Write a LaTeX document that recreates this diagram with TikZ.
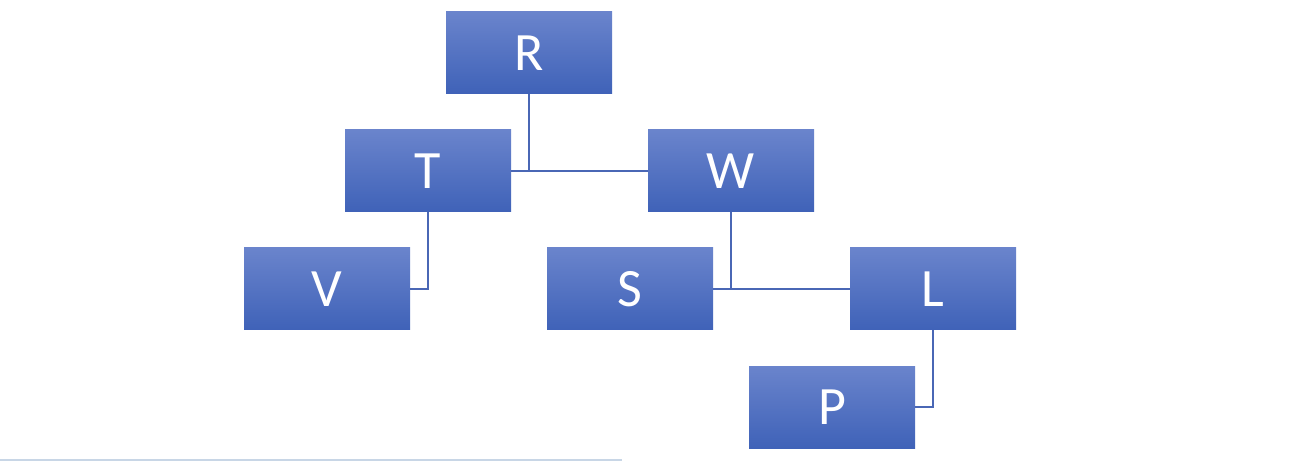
\documentclass[tikz,border=0pt]{standalone}
\usepackage{fontspec}
\setmainfont{Carlito}
\definecolor{boxtop}{HTML}{6A84CC}
\definecolor{boxbot}{HTML}{3F62B8}
\definecolor{lnk}{HTML}{4A67B5}
\begin{document}
\begin{tikzpicture}[x=1pt,y=-1pt,
  box/.style={minimum width=166pt,minimum height=82pt,top color=boxtop,bottom color=boxbot,draw=none,text=white,font=\fontsize{54}{54}\selectfont,inner sep=0pt},
  lk/.style={draw=lnk,line width=1.2pt}]
\useasboundingbox (0,0) rectangle (1296,462);
\node[box] (R) at (529,53) {R};
\node[box] (T) at (428,171) {T};
\node[box] (W) at (731,171) {W};
\node[box] (V) at (327,289) {V};
\node[box] (S) at (630,289) {S};
\node[box] (L) at (933,289) {L};
\node[box] (P) at (832,407) {P};
\coordinate (j1) at (529,171);
\coordinate (j2) at (731,289);
\draw[lk] (R.south) -- (j1);
\draw[lk] (T.east) -- (W.west);
\draw[lk] (T.south) |- (V.east);
\draw[lk] (W.south) -- (j2);
\draw[lk] (S.east) -- (L.west);
\draw[lk] (L.south) |- (P.east);
\coordinate (b1) at (0,460);
\coordinate (b2) at (622,460);
\draw[draw={rgb,255:red,200;green,214;blue,230},line width=1.5pt] (b1) -- (b2);
\end{tikzpicture}
\end{document}
